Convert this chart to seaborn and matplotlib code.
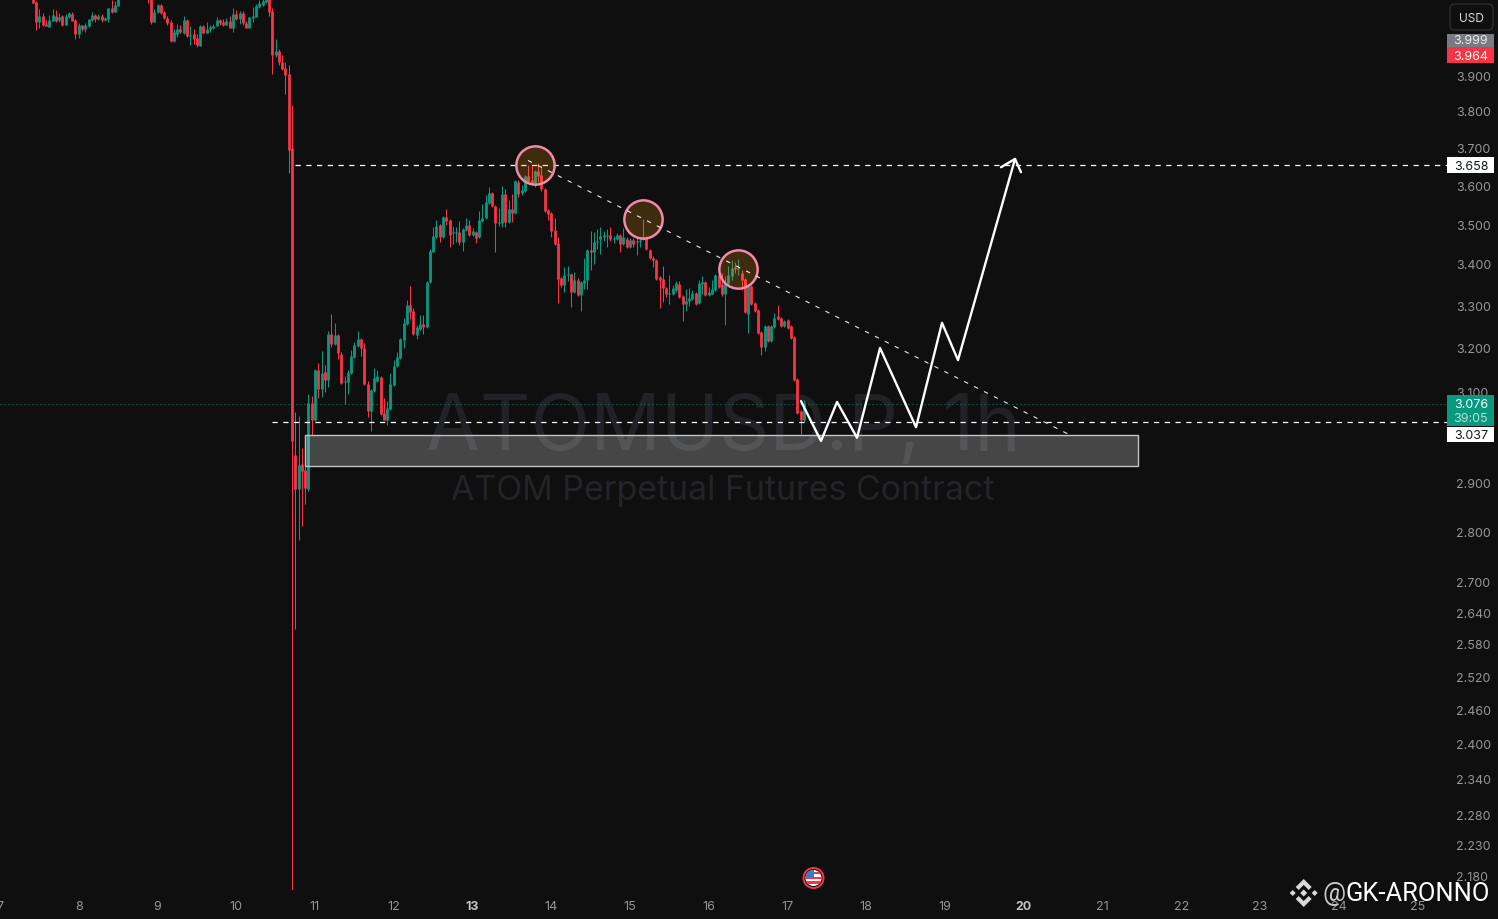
import numpy as np
import pandas as pd
import seaborn as sns
import matplotlib.pyplot as plt
from matplotlib.patches import Rectangle, Circle, Polygon, FancyBboxPatch
from matplotlib.transforms import Affine2D
from matplotlib.ticker import NullLocator

BG = "#0f0f0f"
RED = "#fa3448"
GREEN = "#089981"
TICK = "#969696"

# hourly candles, first one is hour 10 after the start of day 7
first_hour = 10
opens = [
    4.125, 4.115, 4.056, 4.074, 4.050, 4.042, 4.059, 4.074, 4.062, 4.074,
    4.047, 4.072, 4.080, 4.062, 4.021, 4.047, 4.036, 4.045, 4.062, 4.078,
    4.065, 4.074, 4.062, 4.065, 4.097, 4.086, 4.103, 4.128, 4.140, 4.155,
    4.162, 4.158, 4.168, 4.160, 4.165, 4.158, 4.140, 4.056, 4.086, 4.106,
    4.086, 4.068, 4.056, 4.000, 4.021, 4.036, 4.024, 4.062, 4.015, 4.021,
    4.009, 3.986, 4.045, 4.024, 4.036, 4.039, 4.045, 4.062, 4.056, 4.047,
    4.059, 4.039, 4.080, 4.065, 4.083, 4.053, 4.039, 4.068, 4.071, 4.100,
    4.106, 4.115, 4.130, 4.089, 3.959, 3.971, 3.941, 3.924, 3.906, 3.700,
    2.962, 2.889, 2.943, 2.930, 2.889, 3.076, 3.038, 3.150, 3.107, 3.145,
    3.127, 3.234, 3.210, 3.231, 3.187, 3.122, 3.122, 3.143, 3.180, 3.205,
    3.223, 3.201, 3.118, 3.058, 3.102, 3.125, 3.134, 3.054, 3.038, 3.063,
    3.116, 3.160, 3.177, 3.220, 3.258, 3.303, 3.289, 3.231, 3.246, 3.258,
    3.251, 3.358, 3.433, 3.470, 3.500, 3.470, 3.520, 3.513, 3.480, 3.480,
    3.482, 3.458, 3.487, 3.500, 3.475, 3.482, 3.470, 3.510, 3.518, 3.557,
    3.582, 3.549, 3.505, 3.505, 3.580, 3.508, 3.540, 3.530, 3.611, 3.582,
    3.588, 3.626, 3.616, 3.608, 3.640, 3.629, 3.593, 3.538, 3.530, 3.487,
    3.455, 3.368, 3.351, 3.376, 3.378, 3.333, 3.363, 3.326, 3.356, 3.363,
    3.438, 3.431, 3.458, 3.465, 3.470, 3.472, 3.475, 3.465, 3.465, 3.475,
    3.452, 3.465, 3.445, 3.463, 3.458, 3.460, 3.465, 3.467, 3.438, 3.418,
    3.413, 3.371, 3.366, 3.343, 3.329, 3.329, 3.338, 3.354, 3.325, 3.305,
    3.313, 3.317, 3.332, 3.308, 3.354, 3.358, 3.327, 3.330, 3.339, 3.375,
    3.354, 3.330, 3.356, 3.373, 3.394, 3.389, 3.379, 3.366, 3.281, 3.349,
    3.308, 3.291, 3.239, 3.203, 3.253, 3.218, 3.250, 3.276, 3.271, 3.253,
    3.267, 3.253, 3.227, 3.130, 3.058, 3.037,
]
closes = [
    4.113, 4.056, 4.074, 4.047, 4.045, 4.062, 4.077, 4.060, 4.071, 4.047,
    4.074, 4.082, 4.059, 4.021, 4.047, 4.036, 4.047, 4.065, 4.077, 4.065,
    4.074, 4.062, 4.068, 4.097, 4.086, 4.106, 4.128, 4.140, 4.155, 4.162,
    4.158, 4.168, 4.160, 4.165, 4.158, 4.140, 4.056, 4.086, 4.106, 4.083,
    4.068, 4.053, 4.000, 4.027, 4.036, 4.027, 4.062, 4.015, 4.018, 4.006,
    3.989, 4.045, 4.024, 4.036, 4.042, 4.045, 4.062, 4.053, 4.047, 4.059,
    4.039, 4.080, 4.065, 4.083, 4.053, 4.039, 4.071, 4.074, 4.103, 4.112,
    4.118, 4.124, 4.086, 3.959, 3.971, 3.941, 3.921, 3.903, 3.695, 2.992,
    2.889, 2.940, 2.927, 2.891, 3.076, 3.038, 3.150, 3.107, 3.143, 3.127,
    3.234, 3.210, 3.231, 3.189, 3.120, 3.125, 3.145, 3.182, 3.208, 3.223,
    3.201, 3.118, 3.058, 3.105, 3.132, 3.136, 3.052, 3.038, 3.065, 3.118,
    3.160, 3.180, 3.223, 3.260, 3.303, 3.286, 3.234, 3.251, 3.258, 3.251,
    3.358, 3.435, 3.472, 3.497, 3.470, 3.520, 3.510, 3.475, 3.482, 3.482,
    3.458, 3.490, 3.500, 3.475, 3.485, 3.467, 3.513, 3.518, 3.559, 3.582,
    3.549, 3.505, 3.508, 3.580, 3.508, 3.540, 3.530, 3.613, 3.580, 3.590,
    3.626, 3.611, 3.606, 3.640, 3.626, 3.593, 3.535, 3.528, 3.485, 3.452,
    3.366, 3.351, 3.376, 3.378, 3.333, 3.363, 3.326, 3.358, 3.363, 3.438,
    3.433, 3.458, 3.460, 3.472, 3.475, 3.475, 3.465, 3.467, 3.475, 3.452,
    3.470, 3.445, 3.463, 3.452, 3.460, 3.463, 3.470, 3.440, 3.416, 3.411,
    3.366, 3.363, 3.343, 3.329, 3.331, 3.343, 3.356, 3.322, 3.305, 3.313,
    3.320, 3.332, 3.305, 3.356, 3.358, 3.327, 3.334, 3.341, 3.375, 3.346,
    3.330, 3.356, 3.375, 3.392, 3.389, 3.392, 3.363, 3.286, 3.349, 3.305,
    3.288, 3.236, 3.203, 3.253, 3.218, 3.253, 3.271, 3.268, 3.253, 3.265,
    3.248, 3.225, 3.128, 3.053, 3.037, 3.076,
]
highs = [
    4.140, 4.117, 4.095, 4.082, 4.062, 4.077, 4.095, 4.092, 4.083, 4.076,
    4.080, 4.086, 4.086, 4.064, 4.053, 4.048, 4.053, 4.066, 4.086, 4.080,
    4.080, 4.080, 4.071, 4.098, 4.121, 4.118, 4.140, 4.150, 4.165, 4.172,
    4.170, 4.175, 4.176, 4.172, 4.170, 4.162, 4.145, 4.095, 4.108, 4.109,
    4.088, 4.074, 4.062, 4.036, 4.050, 4.048, 4.074, 4.065, 4.045, 4.036,
    4.021, 4.046, 4.046, 4.056, 4.048, 4.050, 4.071, 4.065, 4.065, 4.068,
    4.074, 4.097, 4.092, 4.089, 4.089, 4.059, 4.072, 4.100, 4.109, 4.121,
    4.128, 4.135, 4.140, 4.097, 4.006, 3.977, 3.959, 3.939, 3.931, 3.820,
    3.056, 3.047, 2.977, 2.962, 3.096, 3.091, 3.153, 3.166, 3.194, 3.162,
    3.241, 3.282, 3.260, 3.233, 3.192, 3.136, 3.150, 3.196, 3.215, 3.241,
    3.225, 3.213, 3.125, 3.107, 3.155, 3.150, 3.136, 3.087, 3.081, 3.143,
    3.173, 3.192, 3.225, 3.272, 3.315, 3.349, 3.296, 3.256, 3.279, 3.279,
    3.360, 3.439, 3.495, 3.513, 3.502, 3.522, 3.540, 3.515, 3.497, 3.495,
    3.510, 3.492, 3.518, 3.513, 3.492, 3.485, 3.535, 3.554, 3.577, 3.598,
    3.585, 3.551, 3.543, 3.601, 3.593, 3.564, 3.580, 3.616, 3.616, 3.603,
    3.629, 3.656, 3.652, 3.643, 3.661, 3.653, 3.595, 3.540, 3.532, 3.518,
    3.470, 3.370, 3.396, 3.398, 3.380, 3.383, 3.368, 3.360, 3.418, 3.440,
    3.485, 3.482, 3.490, 3.495, 3.485, 3.490, 3.495, 3.472, 3.480, 3.478,
    3.492, 3.470, 3.467, 3.468, 3.466, 3.468, 3.515, 3.472, 3.440, 3.422,
    3.415, 3.373, 3.398, 3.345, 3.376, 3.350, 3.360, 3.360, 3.327, 3.341,
    3.344, 3.339, 3.334, 3.363, 3.373, 3.360, 3.345, 3.363, 3.378, 3.377,
    3.380, 3.373, 3.397, 3.412, 3.407, 3.414, 3.388, 3.368, 3.351, 3.351,
    3.310, 3.293, 3.241, 3.255, 3.255, 3.255, 3.283, 3.303, 3.273, 3.267,
    3.269, 3.255, 3.229, 3.132, 3.060, 3.083,
]
lows = [
    4.112, 4.033, 4.039, 4.045, 4.044, 4.042, 4.059, 4.056, 4.056, 4.045,
    4.047, 4.068, 4.059, 4.006, 4.009, 4.030, 4.027, 4.042, 4.060, 4.056,
    4.062, 4.056, 4.059, 4.056, 4.083, 4.086, 4.103, 4.125, 4.135, 4.150,
    4.150, 4.152, 4.155, 4.156, 4.150, 4.112, 4.050, 4.056, 4.084, 4.080,
    4.066, 4.047, 3.997, 3.998, 4.012, 4.025, 4.022, 4.013, 3.989, 3.992,
    3.983, 3.985, 4.023, 4.023, 4.027, 4.036, 4.044, 4.047, 4.045, 4.046,
    4.038, 4.027, 4.062, 4.050, 4.047, 4.038, 4.038, 4.056, 4.070, 4.098,
    4.104, 4.113, 4.074, 3.906, 3.953, 3.930, 3.918, 3.849, 3.634, 2.140,
    2.611, 2.784, 2.813, 2.858, 2.885, 3.005, 3.036, 3.087, 3.089, 3.100,
    3.111, 3.203, 3.208, 3.175, 3.118, 3.074, 3.096, 3.141, 3.177, 3.203,
    3.182, 3.116, 3.045, 3.014, 3.100, 3.123, 3.050, 3.037, 3.027, 3.060,
    3.114, 3.158, 3.175, 3.201, 3.256, 3.270, 3.232, 3.223, 3.244, 3.234,
    3.249, 3.356, 3.431, 3.468, 3.458, 3.468, 3.500, 3.445, 3.452, 3.458,
    3.450, 3.435, 3.485, 3.473, 3.473, 3.455, 3.468, 3.508, 3.516, 3.555,
    3.547, 3.433, 3.498, 3.495, 3.495, 3.506, 3.508, 3.528, 3.572, 3.577,
    3.586, 3.609, 3.604, 3.598, 3.611, 3.588, 3.533, 3.513, 3.470, 3.450,
    3.307, 3.345, 3.333, 3.360, 3.297, 3.331, 3.324, 3.288, 3.340, 3.341,
    3.388, 3.403, 3.440, 3.428, 3.460, 3.445, 3.460, 3.455, 3.462, 3.433,
    3.450, 3.443, 3.443, 3.445, 3.425, 3.445, 3.463, 3.438, 3.414, 3.395,
    3.364, 3.295, 3.310, 3.322, 3.304, 3.327, 3.335, 3.320, 3.265, 3.288,
    3.300, 3.315, 3.303, 3.306, 3.330, 3.325, 3.325, 3.328, 3.337, 3.344,
    3.323, 3.255, 3.354, 3.363, 3.380, 3.376, 3.339, 3.284, 3.236, 3.303,
    3.286, 3.234, 3.185, 3.195, 3.216, 3.216, 3.248, 3.266, 3.251, 3.251,
    3.246, 3.223, 3.126, 3.051, 3.007, 3.033,
]

# axis ticks
day_ticks = list(range(7, 26))
bold_days = [13, 20]
price_ticks = [3.9, 3.8, 3.7, 3.6, 3.5, 3.4, 3.3, 3.2, 3.1, 2.9, 2.8, 2.7, 2.64,
               2.58, 2.52, 2.46, 2.40, 2.34, 2.28, 2.23, 2.18]

# drawn things on the chart
last_price = 3.074
top_level = 3.655
bottom_level = 3.034
zone_days = [10.873, 21.451]
zone_prices = [2.938, 3.005]
trend_days = [13.705, 20.587]
trend_prices = [3.668, 3.005]
touch_days = [13.797, 15.169, 16.375]
touch_prices = [3.656, 3.515, 3.390]
path_days = [17.171, 17.425, 17.629, 17.883, 18.175, 18.632, 18.962, 19.165, 19.889]
path_prices = [3.080, 2.992, 3.078, 2.999, 3.201, 3.022, 3.260, 3.173, 3.672]
head_days = [19.711, 19.889, 19.965]
head_prices = [3.650, 3.672, 3.637]

hours = first_hour + np.arange(len(opens))
df = pd.DataFrame({"t": 7 + hours / 24, "open": opens, "close": closes,
                   "high": highs, "low": lows})
df["candle"] = np.arange(len(df))
df["dir"] = np.where(df["close"] >= df["open"], "up", "down")
wicks = df.melt(id_vars=["candle", "t", "dir"], value_vars=["high", "low"], value_name="price")
bodies = df.melt(id_vars=["candle", "t", "dir"], value_vars=["open", "close"], value_name="price")
candle_colors = {"up": GREEN, "down": RED}

sns.set_theme(style="dark", rc={"axes.facecolor": BG, "figure.facecolor": BG})
plt.rcParams["font.family"] = ["Inter", "DejaVu Sans"]

W, H = 1498, 919
fig = plt.figure(figsize=(W / 100, H / 100), dpi=100, facecolor=BG)
ax = fig.add_axes([0, (H - 890) / H, 1447 / W, 890 / H])
ax.set_facecolor(BG)
ax.set_yscale("log")
pix = Affine2D().scale(1, -1).translate(0, H)  # layout in reference pixels

# faint symbol name behind everything
ax.text(723, 430, "ATOMUSD.P, 1h", transform=pix, color="#212225", fontsize=56.3,
        ha="center", va="center", zorder=0)
ax.text(723, 491, "ATOM Perpetual Futures Contract", transform=pix, color="#232427",
        fontsize=24.4, ha="center", va="center", zorder=0)

ax.axhline(last_price, color=GREEN, lw=0.8, linestyle=(0, (1, 2.6)), alpha=0.8, zorder=1)

sns.lineplot(data=wicks, x="t", y="price", units="candle", hue="dir", palette=candle_colors,
             estimator=None, legend=False, linewidth=0.75, solid_capstyle="butt", ax=ax, zorder=2)
sns.lineplot(data=bodies, x="t", y="price", units="candle", hue="dir", palette=candle_colors,
             estimator=None, legend=False, linewidth=2.0, solid_capstyle="butt", ax=ax, zorder=2)

ax.add_patch(Rectangle((zone_days[0], zone_prices[0]), zone_days[1] - zone_days[0],
                       zone_prices[1] - zone_prices[0], facecolor=(1, 1, 1, 0.23),
                       edgecolor="#c4c4c4", linewidth=1.0, zorder=3))

dash = (0, (4.2, 4.4))
ax.plot([(295 / 78.75) + 7, 26], [top_level, top_level], color="white", lw=0.9, ls=dash, zorder=4)
ax.plot([(272 / 78.75) + 7, 26], [bottom_level, bottom_level], color="white", lw=0.9, ls=dash, zorder=4)

sns.scatterplot(x=touch_days, y=touch_prices, s=760, color=(1.0, 0.58, 0.05, 0.21),
                edgecolor="#f08aa8", linewidth=1.8, legend=False, ax=ax, zorder=5)
sns.lineplot(x=trend_days, y=trend_prices, color="white", lw=0.8, sort=False, estimator=None,
             linestyle=(0, (4, 6)), alpha=0.9, ax=ax, zorder=6)
sns.lineplot(x=path_days, y=path_prices, color="white", lw=1.7, sort=False, estimator=None,
             ax=ax, zorder=7)
sns.lineplot(x=head_days, y=head_prices, color="white", lw=1.7, sort=False, estimator=None,
             ax=ax, zorder=7)

ax.set_xlim(7, 7 + 1447 / 78.75)
ax.set_ylim(2.1595, 4.1213)
ax.set_xlabel("")
ax.set_ylabel("")
ax.grid(False)
for s in ax.spines.values():
    s.set_visible(False)
ax.yaxis.tick_right()
ax.set_yticks(price_ticks)
ax.set_yticklabels([f"{p:.3f}" for p in price_ticks], va="center_baseline")
ax.yaxis.set_minor_locator(NullLocator())
ax.set_xticks(day_ticks)
ax.set_xticklabels([str(d) for d in day_ticks])
ax.tick_params(axis="both", length=0, labelcolor=TICK, labelsize=9)
ax.tick_params(axis="y", pad=6.5)
ax.tick_params(axis="x", pad=8)
for lab, d in zip(ax.get_xticklabels(), day_ticks):
    if d in bold_days:
        lab.set_fontweight("bold")
        lab.set_color("#c4c4c4")

# price scale tags
def tag(y0, y1, face, text, color, ty=None):
    fig.add_artist(Rectangle((1447, y0), 47, y1 - y0, transform=pix, facecolor=face,
                             edgecolor="none", zorder=2))
    fig.text(1471, (y0 + y1) / 2 if ty is None else ty, text, transform=pix, color=color,
             fontsize=9, ha="center", va="center_baseline", zorder=3)

tag(34, 47, "#787b86", "3.999", "#e6e6e6", ty=39.5)
tag(47, 63, "#f23645", "3.964", "white", ty=56)
tag(157, 173, "white", "3.658", "#131722", ty=165.5)
tag(395, 426, GREEN, "3.076", "white", ty=404)
fig.text(1471, 418, "39:05", transform=pix, color="#b5e0d8", fontsize=9, ha="center",
         va="center_baseline", zorder=3)
tag(427, 442, "white", "3.037", "#131722", ty=434.5)

fig.add_artist(FancyBboxPatch((1450, 4), 43, 26, boxstyle="round,pad=0,rounding_size=5", transform=pix,
                              facecolor=BG, edgecolor="#2e2e2e", linewidth=1, zorder=2))
fig.text(1471.5, 17, "USD", transform=pix, color="#d8d8d8", fontsize=8.6, ha="center",
         va="center_baseline", zorder=3)

# flag marker
ring = Circle((813.5, 878), 10, transform=pix, facecolor=BG, edgecolor=RED, linewidth=1.4, zorder=2)
fig.add_artist(ring)
inner = Circle((813.5, 878), 8, transform=pix, facecolor="white", edgecolor="none", zorder=3)
fig.add_artist(inner)
for y0, c, x0, w, h in [(872, RED, 806, 16, 2.2), (876.5, RED, 806, 16, 2.2), (881, RED, 806, 16, 2.6),
                        (870, "#2f7fd6", 805, 8.5, 7.5)]:
    r = Rectangle((x0, y0), w, h, transform=pix, facecolor=c, edgecolor="none", zorder=4)
    r.set_clip_path(inner)
    fig.add_artist(r)

# watermark bottom right
cx, cy = 1303.7, 893
for pts in [[(-8, -6), (0, -14), (8, -6), (5, -3), (0, -8), (-5, -3)],
            [(-8, 6), (0, 14), (8, 6), (5, 3), (0, 8), (-5, 3)],
            [(-14, 0), (-11, -3), (-8, 0), (-11, 3)],
            [(14, 0), (11, -3), (8, 0), (11, 3)],
            [(-3.5, 0), (0, -3.5), (3.5, 0), (0, 3.5)]]:
    fig.add_artist(Polygon([(cx + a, cy + b) for a, b in pts], closed=True, transform=pix,
                           facecolor="#d9d9d9", edgecolor="none", zorder=4))
fig.text(1323, 894, "@", transform=pix, color="#c8c8c8", fontsize=18.4, ha="left", va="center",
         family="Roboto", zorder=4)
fig.text(1490, 894, "GK-ARONNO", transform=pix, color="white", fontsize=18.4, ha="right", va="center",
         family="Roboto", zorder=4)

fig.savefig("out.png", dpi=100, facecolor=BG)
